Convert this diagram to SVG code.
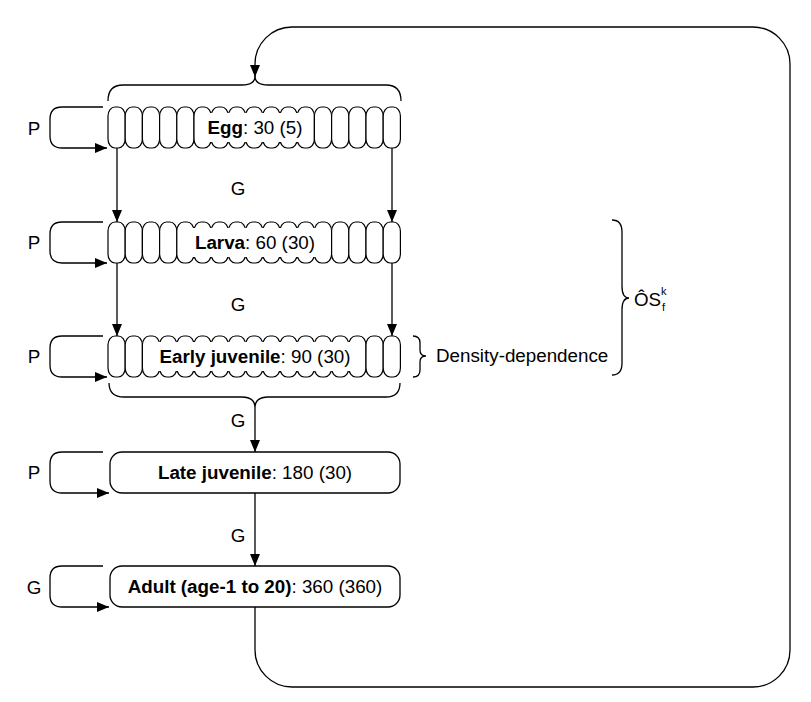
<svg xmlns="http://www.w3.org/2000/svg" xmlns:xlink="http://www.w3.org/1999/xlink" width="811" height="702" viewBox="0 0 811 702">
<style>
  .ln{fill:none;stroke:#000;stroke-width:1.3}
  .cell{fill:#fff;stroke:#000;stroke-width:1.2}
  .box{fill:#fff;stroke:#000;stroke-width:1.3}
  .bg{fill:#fff;stroke:none}
  text{font-family:"Liberation Sans",Arial,sans-serif;font-size:18.8px;fill:#000}
  .c{text-anchor:middle}
  .b{font-weight:bold}
</style>
<defs>
  <marker id="ah" markerWidth="13" markerHeight="11" refX="12" refY="5.5" orient="auto" markerUnits="userSpaceOnUse">
    <path d="M0,0.5 L12,5.5 L0,10.5 z" fill="#000"/>
  </marker>
  <rect id="cell" class="cell" width="17.2" height="41" rx="7" ry="9"/>
  <g id="row">
    <use xlink:href="#cell" x="108"/><use xlink:href="#cell" x="125.2"/><use xlink:href="#cell" x="142.4"/><use xlink:href="#cell" x="159.6"/>
    <use xlink:href="#cell" x="176.8"/><use xlink:href="#cell" x="194"/><use xlink:href="#cell" x="211.2"/><use xlink:href="#cell" x="228.4"/>
    <use xlink:href="#cell" x="245.6"/><use xlink:href="#cell" x="262.8"/><use xlink:href="#cell" x="280"/><use xlink:href="#cell" x="297.2"/>
    <use xlink:href="#cell" x="314.4"/><use xlink:href="#cell" x="331.6"/><use xlink:href="#cell" x="348.8"/><use xlink:href="#cell" x="366"/>
    <use xlink:href="#cell" x="383.2"/>
  </g>
</defs>
<rect width="811" height="702" fill="#fff"/>

<g id="connectors">
  <!-- self loops -->
  <path class="ln" d="M103,107 H62 Q50,107 50,119 V136 Q50,148 62,148 H107" marker-end="url(#ah)"/>
  <path class="ln" d="M103,222 H62 Q50,222 50,234 V251 Q50,263 62,263 H107" marker-end="url(#ah)"/>
  <path class="ln" d="M103,336 H62 Q50,336 50,348 V365 Q50,377 62,377 H107" marker-end="url(#ah)"/>
  <path class="ln" d="M103,452 H62 Q50,452 50,464 V481 Q50,493 62,493 H109" marker-end="url(#ah)"/>
  <path class="ln" d="M103,566 H62 Q50,566 50,578 V595 Q50,607 62,607 H109" marker-end="url(#ah)"/>
  <!-- growth arrows -->
  <path class="ln" d="M117,148 V222" marker-end="url(#ah)"/>
  <path class="ln" d="M392,148 V222" marker-end="url(#ah)"/>
  <path class="ln" d="M117,263 V336" marker-end="url(#ah)"/>
  <path class="ln" d="M392,263 V336" marker-end="url(#ah)"/>
  <path class="ln" d="M255,408 V452" marker-end="url(#ah)"/>
  <path class="ln" d="M255,493 V566" marker-end="url(#ah)"/>
  <!-- feedback loop -->
  <path class="ln" d="M255,607 V650 A37,37 0 0 0 292,687 H753 A37,37 0 0 0 790,650 V64 A37,37 0 0 0 753,27 H292 A37,37 0 0 0 255,64 V77" marker-end="url(#ah)"/>
  <!-- braces -->
  <path class="ln" d="M108,101 Q108,85 123,85 H242 Q255,85 255,76 Q255,85 268,85 H386 Q401,85 401,101"/>
  <path class="ln" d="M109,383 Q109,397 124,397 H242 Q255,397 255,408 Q255,397 268,397 H386 Q400,397 400,383"/>
  <path class="ln" d="M413,336 Q420,336 420,343 V350 Q420,356 426,356 Q420,356 420,362 V370 Q420,377 413,377"/>
  <path class="ln" d="M612,220 Q622,220 622,232 V286 Q622,298 629,298 Q622,298 622,310 V363 Q622,375 612,375"/>
</g>

<g id="egg">
  <use xlink:href="#row" y="107"/>
  <rect class="bg" x="204" y="113" width="100" height="29"/>
  <text class="c" x="255" y="134"><tspan class="b">Egg</tspan>: 30 (5)</text>
</g>
<g id="larva">
  <use xlink:href="#row" y="222"/>
  <rect class="bg" x="192" y="228" width="126" height="29"/>
  <text class="c" x="255" y="249"><tspan class="b">Larva</tspan>: 60 (30)</text>
</g>
<g id="early-juvenile">
  <use xlink:href="#row" y="336"/>
  <rect class="bg" x="155" y="342" width="199" height="29"/>
  <text class="c" x="255" y="363"><tspan class="b">Early juvenile</tspan>: 90 (30)</text>
</g>
<g id="late-juvenile">
  <rect class="box" x="110" y="452" width="290" height="41" rx="12"/>
  <text class="c" x="255" y="479"><tspan class="b">Late juvenile</tspan>: 180 (30)</text>
</g>
<g id="adult">
  <rect class="box" x="110" y="566" width="290" height="41" rx="12"/>
  <text class="c" x="255" y="593"><tspan class="b">Adult (age-1 to 20)</tspan>: 360 (360)</text>
</g>

<g id="labels">
  <text class="c" x="34" y="135">P</text>
  <text class="c" x="34" y="249">P</text>
  <text class="c" x="34" y="363">P</text>
  <text class="c" x="34" y="479">P</text>
  <text class="c" x="34" y="594">G</text>
  <text class="c" x="238" y="195">G</text>
  <text class="c" x="238" y="311">G</text>
  <text class="c" x="238" y="427">G</text>
  <text class="c" x="238" y="542">G</text>
  <text x="436" y="362">Density-dependence</text>
  <text x="634" y="306">ÔS</text>
  <text x="661" y="295" style="font-size:11px">k</text>
  <text x="662" y="311" style="font-size:11px">f</text>
</g>
</svg>
